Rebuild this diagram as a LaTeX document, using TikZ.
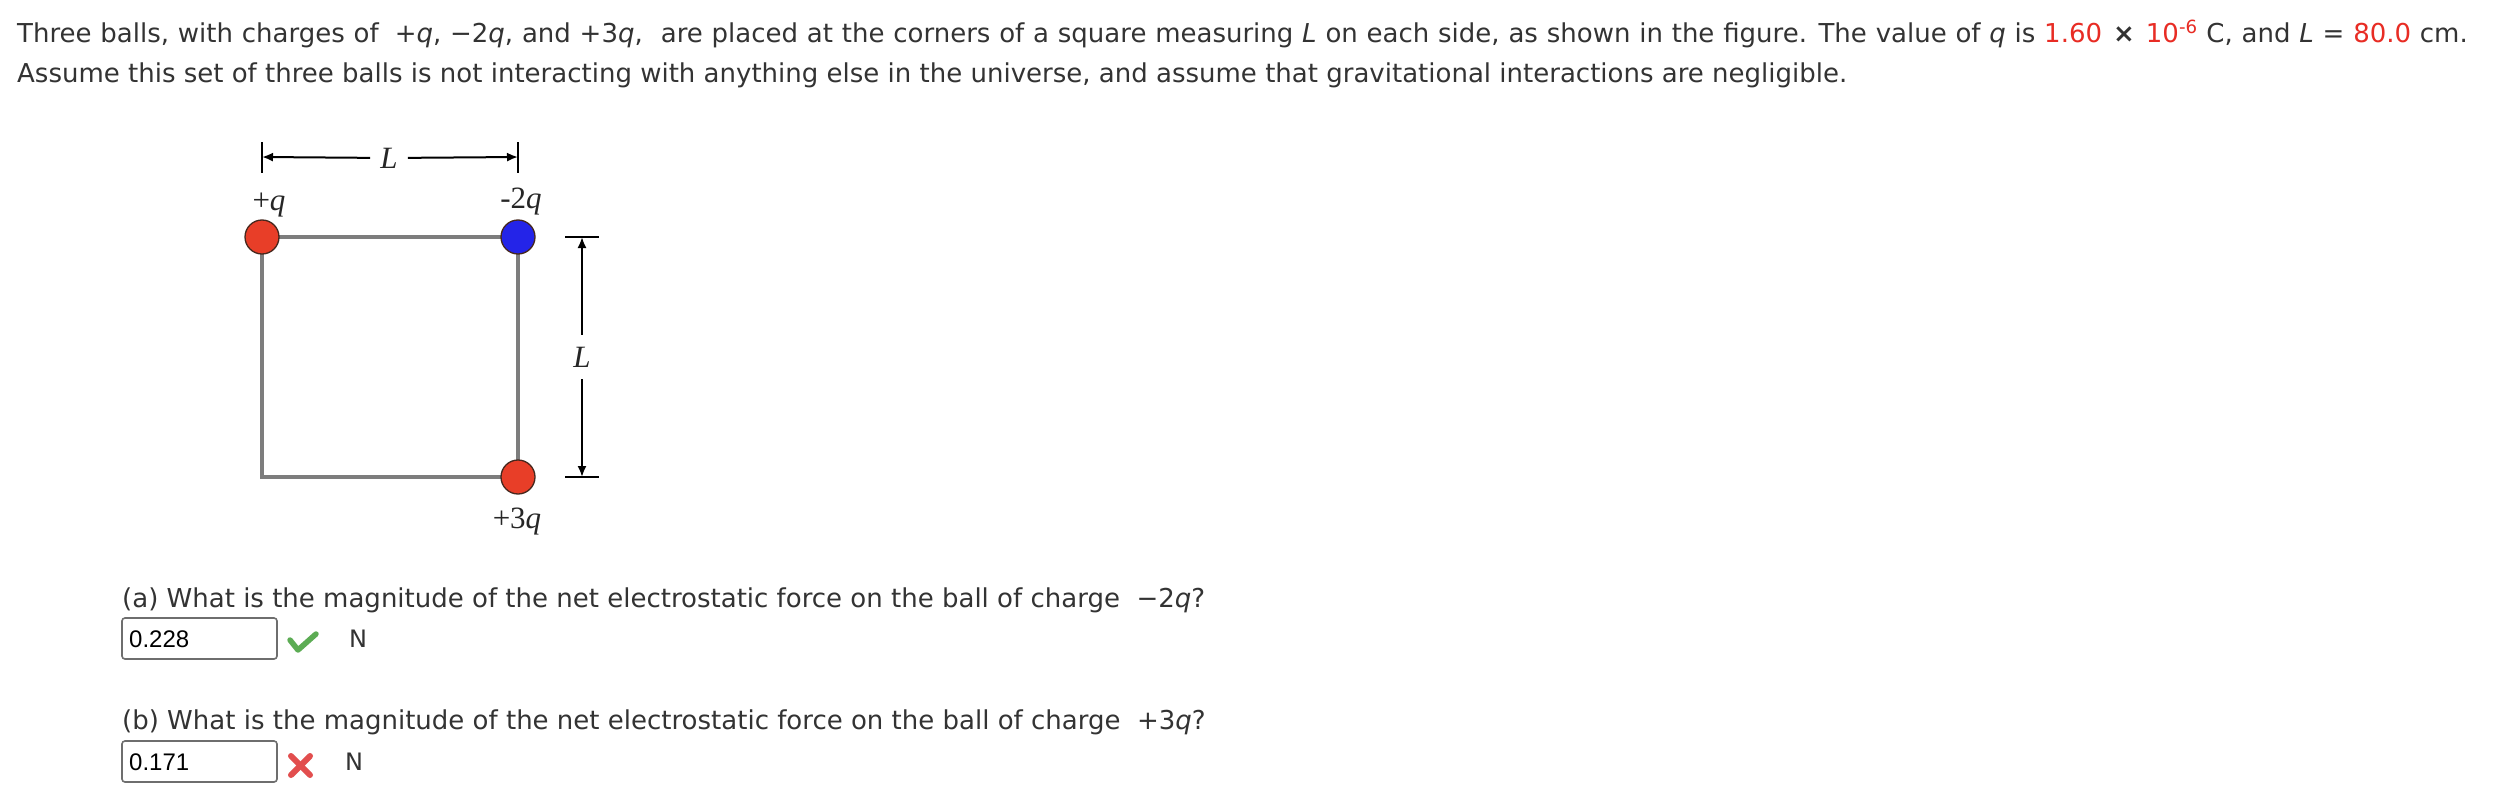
\documentclass[tikz,border=0pt]{standalone}
\usepackage{fontspec}
\setmainfont{DejaVu Sans}
\newfontfamily\figserif{Liberation Serif}
\newfontfamily\boxfont{Liberation Sans}
\usetikzlibrary{arrows.meta}
\definecolor{txt}{RGB}{51,51,51}
\definecolor{valred}{RGB}{232,44,36}
\definecolor{ballred}{RGB}{232,62,40}
\definecolor{ballblue}{RGB}{36,36,232}
\definecolor{ballrim}{RGB}{70,40,30}
\definecolor{sqgray}{RGB}{125,125,125}
\definecolor{boxgray}{RGB}{110,110,110}
\definecolor{okgreen}{RGB}{92,172,84}
\definecolor{badred}{RGB}{226,78,78}
\newcommand{\rv}[1]{\textcolor{valred}{#1}}
\tikzset{
  maintext/.style={anchor=base west, inner sep=0pt, text=txt, font=\fontsize{26}{30}\selectfont},
  qtext/.style={anchor=base west, inner sep=0pt, text=txt, font=\fontsize{26}{30}\selectfont},
  ball/.style={circle, minimum size=34pt, inner sep=0pt, draw=ballrim, line width=1.3pt},
  sqline/.style={draw=sqgray, line width=3.5pt},
  dimline/.style={draw=black, line width=2pt},
  dimarrow/.style={dimline, -{Latex[length=11pt,width=9pt]}},
  figlabel/.style={inner sep=0pt, font=\figserif\fontsize{31}{34}\selectfont, text=black!85},
  ansbox/.style={draw=boxgray, line width=1.6pt, rounded corners=3pt, fill=white},
  anstext/.style={anchor=base west, inner sep=0pt, text=black, font=\boxfont\fontsize{24}{28}\selectfont},
  unittext/.style={anchor=base west, inner sep=0pt, text=txt, font=\fontsize{24}{28}\selectfont},
}
\begin{document}
\begin{tikzpicture}[x=1pt, y=-1pt]
\path[use as bounding box, fill=white] (0,0) rectangle (2512,808);

% problem text
\node[maintext] (line1) at (17,43) {\spaceskip=8.8pt plus 2pt Three balls, with charges of\hspace{16pt}+\textit{q}, −2\textit{q}, and +3\textit{q},\hspace{18pt}are placed at the corners of a square measuring \textit{L} on each side, as shown in the figure. The value of \textit{q} is \rv{1.60}\hspace{11pt}\textbf{×}\hspace{11pt}\rv{10\textsuperscript{-6}} C, and \textit{L} = \rv{80.0} cm.};
\node[maintext] (line2) at (17,82) {Assume this set of three balls is not interacting with anything else in the universe, and assume that gravitational interactions are negligible.};

% square corners
\coordinate (cA) at (262,237);
\coordinate (cB) at (518,237);
\coordinate (cC) at (518,477);
\coordinate (cD) at (262,477);
\draw[sqline] (cA) -- (cB) -- (cC) -- (cD) -- cycle;
\node[ball, fill=ballred] (bA) at (cA) {};
\node[ball, fill=ballblue] (bB) at (cB) {};
\node[ball, fill=ballred] (bC) at (cC) {};
\node[figlabel, anchor=base] (lA) at (269,210) {+\textit{q}};
\node[figlabel, anchor=base] (lB) at (521,208) {-2\textit{q}};
\node[figlabel, anchor=base] (lC) at (517,528) {+3\textit{q}};

% horizontal dimension
\coordinate (hL) at (262,157);
\coordinate (hR) at (518,157);
\node[figlabel, inner xsep=10pt, inner ysep=2pt] (hlab) at (389,158) {\textit{L}};
\draw[dimarrow] (hlab) -- (hL);
\draw[dimarrow] (hlab) -- (hR);
\draw[dimline] ([yshift=15pt]hL) -- ([yshift=-16pt]hL);
\draw[dimline] ([yshift=15pt]hR) -- ([yshift=-16pt]hR);

% vertical dimension
\coordinate (vT) at (582,237);
\coordinate (vB) at (582,477);
\node[figlabel, inner xsep=2pt, inner ysep=12pt] (vlab) at (582,357) {\textit{L}};
\draw[dimarrow] (vlab) -- (vT);
\draw[dimarrow] (vlab) -- (vB);
\draw[dimline] ([xshift=-17pt]vT) -- ([xshift=17pt]vT);
\draw[dimline] ([xshift=-17pt]vB) -- ([xshift=17pt]vB);

% question (a)
\node[qtext] (qa) at (122,607) {(a) What is the magnitude of the net electrostatic force on the ball of charge \ −2\textit{q}?};
\draw[ansbox] (122,618) rectangle (277,659);
\node[anstext] (aa) at (129,647) {0.228};
\coordinate (ck1) at (290,640);
\coordinate (ck2) at (298,650);
\coordinate (ck3) at (316,634);
\draw[okgreen, line width=5.5pt, line cap=round, line join=round] (ck1) -- (ck2) -- (ck3);
\node[unittext] (ua) at (349,647) {N};

% question (b)
\node[qtext] (qb) at (122,729) {(b) What is the magnitude of the net electrostatic force on the ball of charge \ +3\textit{q}?};
\draw[ansbox] (122,741) rectangle (277,782);
\node[anstext] (ab) at (129,770) {0.171};
\coordinate (x1) at (291,756);
\coordinate (x2) at (310,775);
\coordinate (x3) at (310,756);
\coordinate (x4) at (291,775);
\draw[badred, line width=6pt, line cap=round] (x1) -- (x2);
\draw[badred, line width=6pt, line cap=round] (x3) -- (x4);
\node[unittext] (ub) at (345,770) {N};
\end{tikzpicture}
\end{document}
